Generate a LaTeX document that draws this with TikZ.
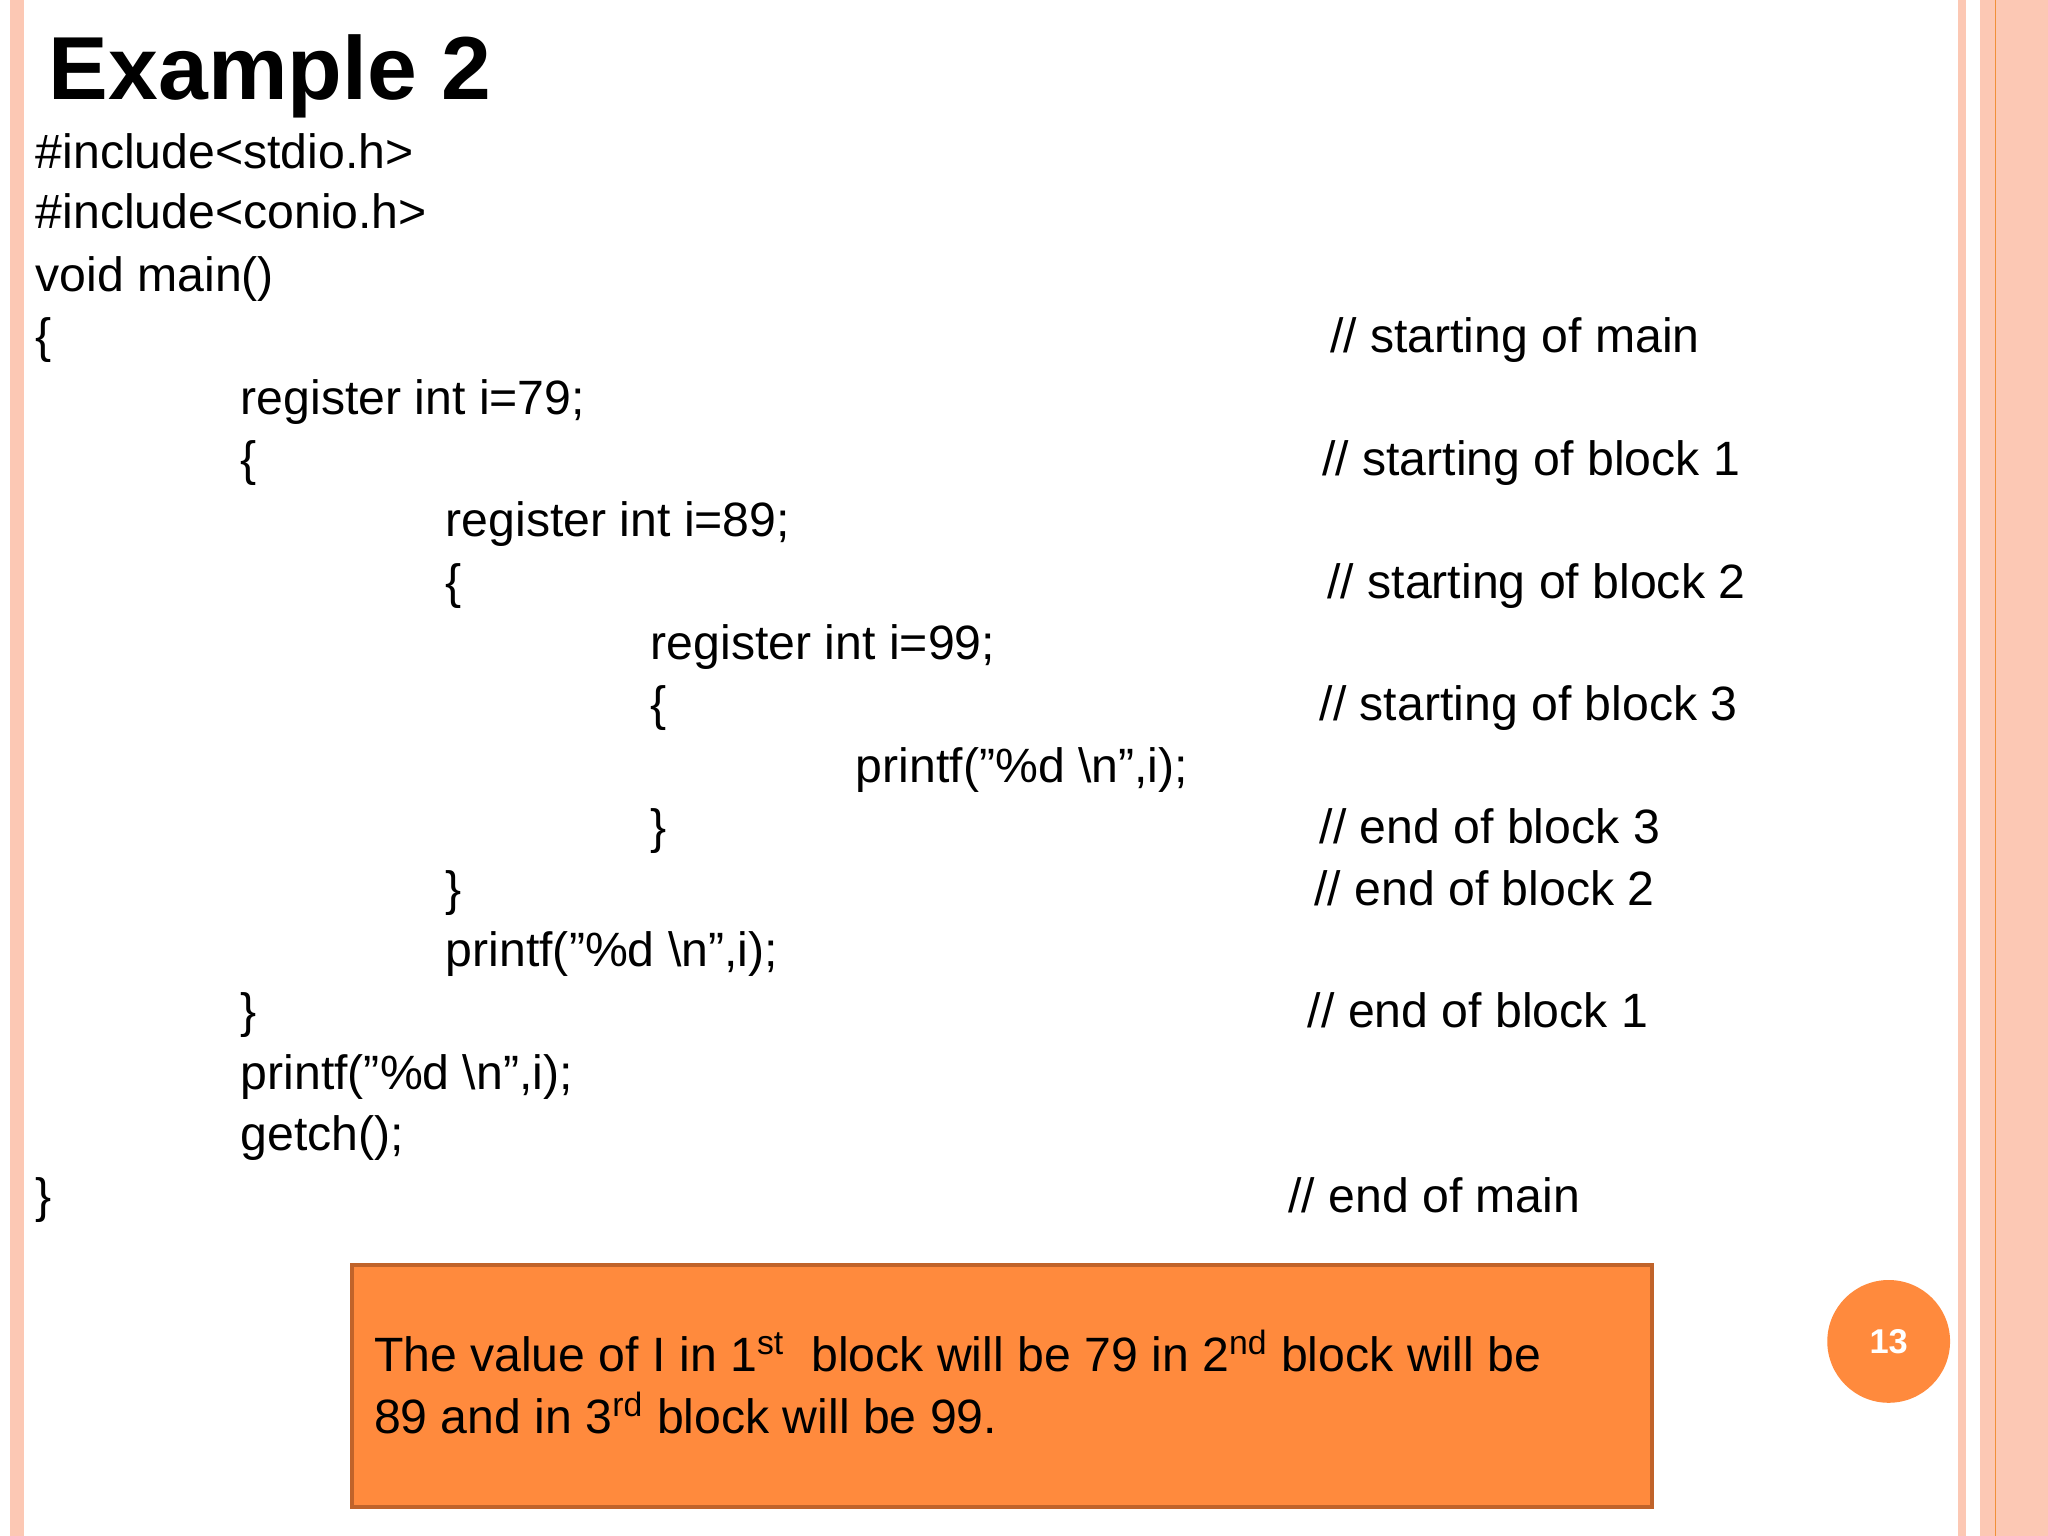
\documentclass[tikz,border=0pt]{standalone}
\usepackage{fontspec}
\setmainfont{Liberation Sans}
\definecolor{pk}{HTML}{FCC8B4}
\definecolor{bx}{HTML}{FF8A3D}
\definecolor{bxd}{HTML}{C0632A}
\definecolor{ln}{HTML}{F0903A}
\begin{document}
\begin{tikzpicture}[x=0.02cm,y=-0.02cm,
  code/.style={anchor=base west,inner sep=0,font=\fontsize{21}{25}\selectfont}]
\useasboundingbox (0,0) rectangle (1568,1176);
\fill[white] (0,0) rectangle (1568,1176);
\fill[pk] (8,0) rectangle (18,1176);
\fill[pk] (1499,0) rectangle (1505,1176);
\fill[pk] (1516,0) rectangle (1568,1176);
\draw[ln,line width=0.6pt] (1528,0) -- (1528,1176);
\node[anchor=base west,inner sep=0,font=\bfseries\fontsize{39}{44}\selectfont] (title) at (37,76) {Example 2};
\node[code] (l1) at (27,129) {\#include<stdio.h>};
\node[code] (l2) at (27,175) {\#include<conio.h>};
\node[code] (l3) at (27,223) {void main()};
\node[code] (l4) at (27,270) {\{};
\node[code] (l5) at (184,317) {register int i=79;};
\node[code] (l6) at (184,364) {\{};
\node[code] (l7) at (341,411) {register int i=89;};
\node[code] (l8) at (341,458) {\{};
\node[code] (l9) at (498,505) {register int i=99;};
\node[code] (l10) at (498,552) {\{};
\node[code] (l11) at (655,599) {printf("\%d \textbackslash n",i);};
\node[code] (l12) at (498,646) {\}};
\node[code] (l13) at (341,693) {\}};
\node[code] (l14) at (341,740) {printf("\%d \textbackslash n",i);};
\node[code] (l15) at (184,787) {\}};
\node[code] (l16) at (184,834) {printf("\%d \textbackslash n",i);};
\node[code] (l17) at (184,881) {getch();};
\node[code] (l18) at (27,928) {\}};
\node[code] (c1) at (1018,270) {// starting of main};
\node[code] (c2) at (1012,364) {// starting of block 1};
\node[code] (c3) at (1016,458) {// starting of block 2};
\node[code] (c4) at (1010,552) {// starting of block 3};
\node[code] (c5) at (1010,646) {// end of block 3};
\node[code] (c6) at (1006,693) {// end of block 2};
\node[code] (c7) at (1001,787) {// end of block 1};
\node[code] (c8) at (986,928) {// end of main};
\node[draw=bxd,line width=1.8pt,fill=bx,minimum width=995*0.02cm,minimum height=185*0.02cm,anchor=north west] (box) at (268,967) {};
\node[anchor=north west,inner sep=0,align=left,font=\fontsize{21}{27}\selectfont] (bt) at (286,1018)
 {The value of I in 1\textsuperscript{st}\ \ block will be 79 in 2\textsuperscript{nd} block will be\\89 and in 3\textsuperscript{rd} block will be 99.};
\node[circle,fill=bx,minimum size=94*0.02cm,inner sep=0,text=white,font=\bfseries\fontsize{15}{18}\selectfont] (pg) at (1446,1027) {13};
\end{tikzpicture}
\end{document}
